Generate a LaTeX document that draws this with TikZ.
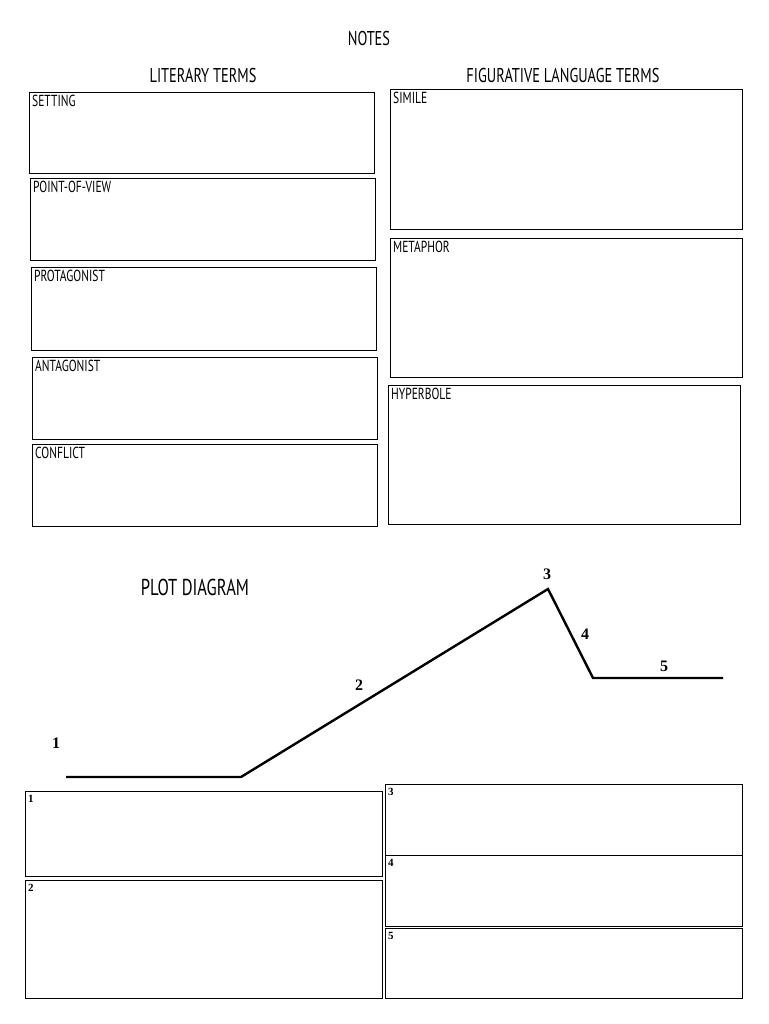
\documentclass[tikz,border=0pt]{standalone}
\usepackage{fontspec}
\setmainfont{PT Sans}[FakeStretch=0.72]
\newfontfamily\numfont{Liberation Serif}
\begin{document}
\begin{tikzpicture}[x=1pt,y=-1pt,
  box/.style={draw=black,line width=0.8pt},
  lbl/.style={anchor=north west,inner sep=2pt,font=\fontsize{16}{17}\selectfont},
  ttl/.style={font=\fontsize{20}{21}\selectfont},
  num/.style={font=\numfont\bfseries\fontsize{16}{17}\selectfont},
  snum/.style={anchor=north west,inner sep=2pt,font=\numfont\bfseries\fontsize{11}{12}\selectfont}]
\useasboundingbox (0,0) rectangle (768,1024);
\node[ttl] (notes) at (369,39) {NOTES};
\node[ttl] (lit) at (203,76) {LITERARY TERMS};
\node[ttl] (fig) at (563,76) {FIGURATIVE LANGUAGE TERMS};
\node[ttl,font=\fontsize{23}{24}\selectfont] (plot) at (195,587) {PLOT DIAGRAM};
\foreach \n/\t/\xa/\ya/\xb/\yb in {
 s/SETTING/29/92/374/173, p/POINT-OF-VIEW/30/178/375/260, pr/PROTAGONIST/31/267/376/350,
 a/ANTAGONIST/32/357/377/439, c/CONFLICT/32/444/377/526,
 si/SIMILE/390/89/742/229, m/METAPHOR/390/238/742/377, h/HYPERBOLE/388/385/740/524}{
 \draw[box] (\xa,\ya) rectangle (\xb,\yb);
 \node[lbl] (\n) at (\xa+1,\ya+1) {\t};
}
\foreach \n/\xa/\ya/\xb/\yb in {1/25/791/382/876, 2/25/880/382/998, 3/385/784/742/855, 4/385/855/742/926, 5/385/928/742/998}{
 \draw[box] (\xa,\ya) rectangle (\xb,\yb);
 \node[snum] (b\n) at (\xa+1,\ya+2) {\n};
}
\coordinate (p0) at (66,777);
\coordinate (p1) at (241,777);
\coordinate (p2) at (548,589);
\coordinate (p3) at (593,678);
\coordinate (p4) at (723,678);
\draw[line width=2.4pt] (p0) -- (p1) -- (p2) -- (p3) -- (p4);
\node[num] (n1) at (56,743) {1};
\node[num] (n2) at (359,685) {2};
\node[num] (n3) at (547,574) {3};
\node[num] (n4) at (585,634) {4};
\node[num] (n5) at (664,666) {5};
\end{tikzpicture}
\end{document}
